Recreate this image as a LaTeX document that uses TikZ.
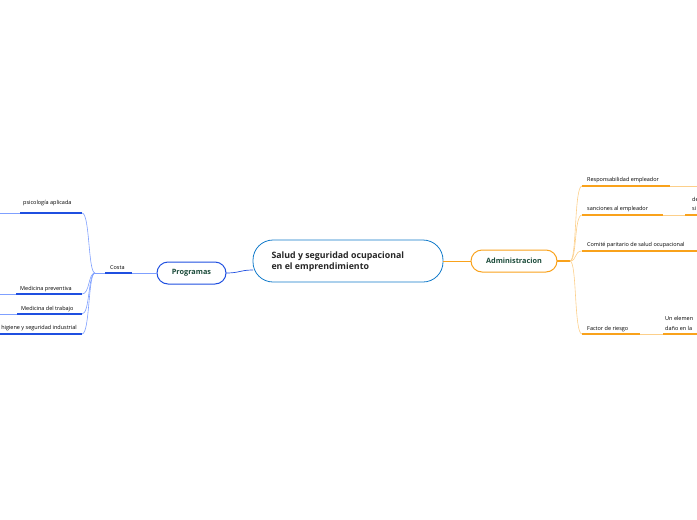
\documentclass[tikz,border=0pt]{standalone}
\usepackage{fontspec}
\setmainfont{Open Sans}
\definecolor{bdark}{HTML}{1F4FE0}
\definecolor{blight}{HTML}{7FA0FF}
\definecolor{odark}{HTML}{F9A21B}
\definecolor{olight}{HTML}{FCCF8A}
\definecolor{tgreen}{HTML}{1B4B3A}
\begin{document}
\begin{tikzpicture}[x=1pt,y=-1pt,
  leaf/.style={font=\fontsize{5.5}{6}\selectfont, inner sep=0pt, anchor=base west},
  bl/.style={draw=blight, line width=0.6pt},
  bd/.style={draw=bdark, line width=1.3pt},
  ol/.style={draw=olight, line width=0.6pt},
  od/.style={draw=odark, line width=1.3pt},
  main/.style={rounded corners=11pt, line width=1pt},
  mtext/.style={font=\bfseries\fontsize{7.3}{9}\selectfont, text=tgreen}]
\useasboundingbox (0,0) rectangle (697,520);
% central
\draw[draw=cyan!60!blue, line width=0.8pt, rounded corners=20pt] (253,240) rectangle (443,282);
\node[font=\bfseries\fontsize{8.8}{11}\selectfont, align=left, anchor=west, text=black!85] (c) at (268,262) {Salud y seguridad ocupacional\\en el emprendimiento};
% Programas
\draw[main, draw=bdark] (157,262) rectangle (226,284);
\node[mtext] (p) at (191.5,273) {Programas};
\draw[draw=bdark, line width=0.7pt] (226,273) .. controls (240,273) and (240,270) .. (253,270);
% Administracion
\draw[main, draw=odark] (471,250) rectangle (557,272);
\node[mtext] (a) at (514,261) {Administracion};
\draw[draw=odark, line width=0.7pt] (443,261) -- (471,261);
% left branch
\coordinate (lo) at (95,273);
\draw[bl] (157,273) -- (132,273);
\draw[bd] (132,273) -- (105,273);
\draw[bl] (105,273) -- (lo);
\node[leaf] at (110,269) {Costa};
\draw[bl] (lo) .. controls (88,273) and (90,213) .. (82,213);
\draw[bl] (lo) .. controls (88,273) and (90,294) .. (82,294);
\draw[bl] (lo) .. controls (88,273) and (90,314) .. (82,314);
\draw[bl] (lo) .. controls (88,273) and (90,334) .. (82,334);
\draw[bd] (82,213) -- (20,213); \draw[bl] (20,213) -- (0,213);
\draw[bd] (82,294) -- (16,294); \draw[bl] (16,294) -- (0,294);
\draw[bd] (82,314) -- (17,314); \draw[bl] (17,314) -- (0,314);
\draw[bd] (82,334) -- (0,334);
\node[leaf] at (23,204) {psicología aplicada};
\node[leaf] at (20,290) {Medicina preventiva};
\node[leaf] at (21,310) {Medicina del trabajo};
\node[leaf, anchor=base east] at (77,329) {higiene y seguridad industrial};
% right branch
\coordinate (ro) at (570,261);
\draw[od] (557,261) -- (ro);
\draw[ol] (ro) .. controls (577,261) and (574,186) .. (582,186);
\draw[ol] (ro) .. controls (577,261) and (574,215) .. (582,215);
\draw[ol] (ro) .. controls (577,261) and (574,251) .. (582,251);
\draw[ol] (ro) .. controls (577,261) and (574,334) .. (582,334);
\draw[od] (582,186) -- (670,186); \draw[ol] (670,186) -- (697,186);
\draw[od] (582,215) -- (663,215); \draw[ol] (663,215) -- (685,215); \draw[od] (685,215) -- (697,215);
\draw[od] (582,251) -- (697,251);
\draw[od] (582,334) -- (640,334); \draw[ol] (640,334) -- (663,334); \draw[od] (663,334) -- (697,334);
\node[leaf] at (587,181) {Responsabilidad empleador};
\node[leaf] at (587,210) {sanciones al empleador};
\node[leaf] at (587,246) {Comité paritario de salud ocupacional};
\node[leaf] at (587,330) {Factor de riesgo};
\node[leaf] at (692,201) {de};
\node[leaf] at (692,210) {si};
\node[leaf] at (665,320) {Un elemen};
\node[leaf] at (665,330) {daño en la};
\end{tikzpicture}
\end{document}
